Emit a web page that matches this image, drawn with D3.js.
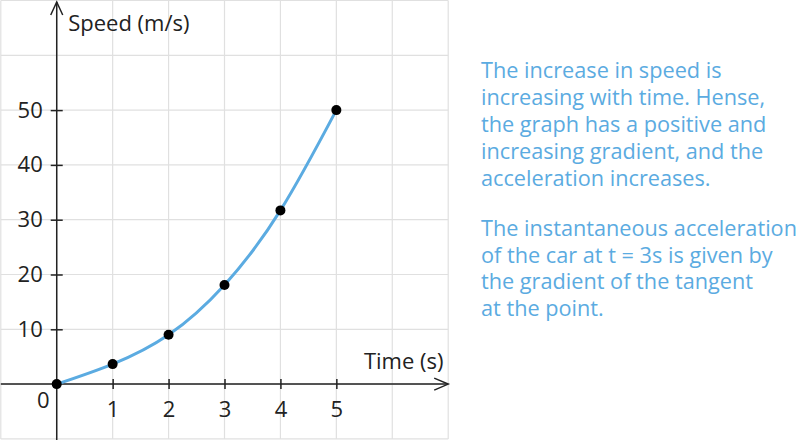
<!DOCTYPE html>
<html>
<head>
<meta charset="utf-8">
<script src="https://cdn.jsdelivr.net/npm/d3@7"></script>
<style>
  html, body { margin: 0; padding: 0; background: #fff; }
  svg { display: block; font-family: "Open Sans", "Noto Sans", sans-serif; }
</style>
</head>
<body>
<svg id="chart" width="800" height="440"></svg>
<script>
// ---- data ----
const times = [0, 1, 2, 3, 4, 5];
const speeds = [0, 3.65, 9, 18.1, 31.7, 50];
const xTicks = [1, 2, 3, 4, 5];
const yTicks = [10, 20, 30, 40, 50];
const xLabel = "Time (s)";
const yLabel = "Speed (m/s)";
const para1 = ["The increase in speed is", "increasing with time. Hense,", "the graph has a positive and", "increasing gradient, and the", "acceleration increases."];
const para2 = ["The instantaneous acceleration", "of the car at t = 3s is given by", "the gradient of the tangent", "at the point."];

// ---- layout ----
const svg = d3.select("#chart");
const x = d3.scaleLinear().domain([-1, 7]).range([0.8, 448.2]);
const y = d3.scaleLinear().domain([-10, 70]).range([438.9, 0.5]);
const gridColor = "#e0e0e0";
const axisColor = "#222";
const blue = "#5BABE1";
const FS = 22;
const TFS = 21.7;

// grid
const grid = svg.append("g");
grid.selectAll("line.v").data(d3.range(-1, 8)).join("line")
  .attr("x1", d => x(d)).attr("x2", d => x(d))
  .attr("y1", y(70)).attr("y2", y(-10))
  .attr("stroke", gridColor).attr("stroke-width", 1.2);
grid.selectAll("line.h").data(d3.range(-10, 71, 10)).join("line")
  .attr("y1", d => y(d)).attr("y2", d => y(d))
  .attr("x1", x(-1)).attr("x2", x(7))
  .attr("stroke", gridColor).attr("stroke-width", 1.2);

// axes lines
svg.append("line").attr("x1", x(-1)).attr("x2", x(7)).attr("y1", y(0)).attr("y2", y(0))
  .attr("stroke", axisColor).attr("stroke-width", 1.5);
svg.append("line").attr("x1", x(0)).attr("x2", x(0)).attr("y1", y(-10) + 2).attr("y2", y(70) + 1.5)
  .attr("stroke", axisColor).attr("stroke-width", 1.5);
// arrowheads
const ax = x(7), ay = y(0);
svg.append("path").attr("d", `M${ax - 14},${ay - 6}L${ax},${ay}L${ax - 14},${ay + 6}`)
  .attr("fill", "none").attr("stroke", axisColor).attr("stroke-width", 1.5);
const tx = x(0), ty = y(70) + 1.5;
svg.append("path").attr("d", `M${tx - 6},${ty + 13}L${tx},${ty}L${tx + 6},${ty + 13}`)
  .attr("fill", "none").attr("stroke", axisColor).attr("stroke-width", 1.5);

// y axis ticks
const yAxis = d3.axisLeft(y).tickValues(yTicks).tickSize(6).tickPadding(8);
const gy = svg.append("g").attr("transform", `translate(${x(0)},0)`).call(yAxis);
gy.select(".domain").remove();
gy.selectAll(".tick line").attr("x2", -6).attr("x1", 6).attr("stroke", axisColor).attr("stroke-width", 1.5);
gy.selectAll(".tick text").attr("font-size", FS).attr("fill", "#222")
  .attr("font-family", "'Open Sans', sans-serif");

// x axis ticks
const xAxis = d3.axisBottom(x).tickValues(xTicks).tickSize(5).tickPadding(12);
const gx = svg.append("g").attr("transform", `translate(0,${y(0)})`).call(xAxis);
gx.select(".domain").remove();
gx.selectAll(".tick line").attr("y1", -5).attr("y2", 5).attr("stroke", axisColor).attr("stroke-width", 1.5);
gx.selectAll(".tick text").attr("font-size", FS).attr("fill", "#222")
  .attr("font-family", "'Open Sans', sans-serif");

// origin label
svg.append("text").attr("x", x(0) - 13.5).attr("y", y(0) + 23.5).attr("text-anchor", "middle")
  .attr("font-size", FS).attr("fill", "#222").text("0");

// axis labels
svg.append("text").attr("x", 443.5).attr("y", y(0) - 15.5).attr("text-anchor", "end")
  .attr("font-size", FS).attr("fill", "#222").text(xLabel);
svg.append("text").attr("x", x(0) + 11.5).attr("y", 31)
  .attr("font-size", FS).attr("fill", "#222").text(yLabel);

// curve
const pts = times.map((t, i) => [t, speeds[i]]);
const line = d3.line().x(d => x(d[0])).y(d => y(d[1])).curve(d3.curveNatural);
svg.append("path").attr("d", line(pts)).attr("fill", "none")
  .attr("stroke", blue).attr("stroke-width", 3);

// points
svg.selectAll("circle.pt").data(pts).join("circle")
  .attr("cx", d => x(d[0])).attr("cy", d => y(d[1])).attr("r", 5).attr("fill", "#000");

// annotation text (one text element per line)
function para(lines, y0, lh) {
  svg.append("g").selectAll("text").data(lines).join("text")
    .attr("x", 481).attr("y", (d, i) => y0 + i * lh)
    .attr("font-size", TFS).attr("fill", blue).text(d => d);
}
para(para1, 78, 27);
para(para2, 236, 26.7);
</script>
</body>
</html>
